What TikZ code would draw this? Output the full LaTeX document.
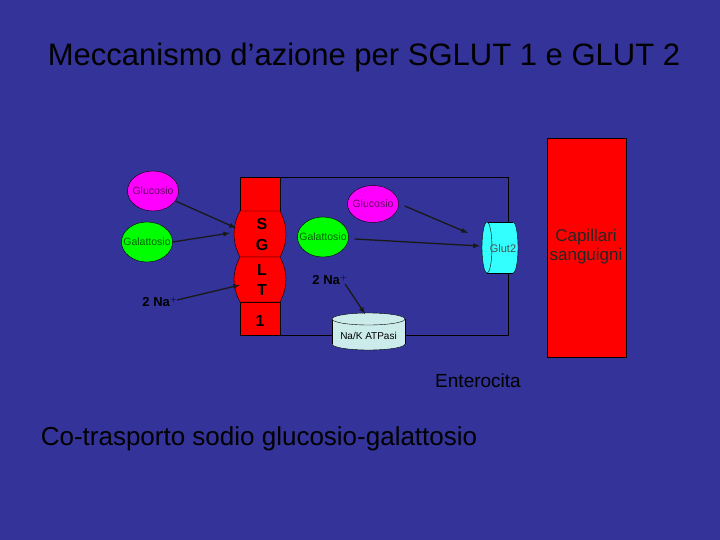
\documentclass[tikz,border=0pt]{standalone}
\usepackage{fontspec}
\setmainfont{Liberation Sans}
\usetikzlibrary{shapes.geometric}
\definecolor{bg}{RGB}{51,51,153}
\definecolor{mag}{RGB}{255,0,255}
\definecolor{grn}{RGB}{0,255,0}
\definecolor{cy}{RGB}{51,255,255}
\definecolor{nak}{RGB}{204,236,236}
\begin{document}
\begin{tikzpicture}[x=1pt,y=-1pt,
  ell/.style={ellipse,draw=black,minimum width=51,inner xsep=-8pt,inner ysep=0pt,font=\fontsize{10.5}{12}\selectfont,text=black!60!mag},
  arr/.style={draw=black!90,line width=1.3pt,-latex},
  big/.style={font=\bfseries\fontsize{16}{18}\selectfont,text=black}]
\fill[bg] (0,0) rectangle (720,540);
\useasboundingbox (0,0) rectangle (720,540);
\node[font=\fontsize{31}{36}\selectfont] (title) at (364,57) {Meccanismo d’azione per SGLUT 1 e GLUT 2};
% cell
\draw[black] (240,177) rectangle (508,335);
% SGLT
\draw[fill=red] (240,177) rectangle (280,211);
\draw[fill=red] (240,302) rectangle (280,335);
\draw[fill=red] (240,211) .. controls (232,226) and (232,242) .. (240,257) -- (280,257) .. controls (288,242) and (288,226) .. (280,211) -- cycle;
\draw[fill=red] (240,257) .. controls (232,272) and (232,287) .. (240,302) -- (280,302) .. controls (288,287) and (288,272) .. (280,257) -- cycle;
\node[big] (s) at (262,224) {S};
\node[big] (g) at (262,245) {G};
\node[big] (l) at (262,270) {L};
\node[big] (t) at (262,290) {T};
\node[big] (one) at (260,321) {1};
% capillari
\node[draw=black,fill=red,minimum width=79,minimum height=219,inner sep=0pt] (cap) at (586.5,247.5) {};
\node[font=\fontsize{17}{19}\selectfont,align=center,text=black!85] (capt) at (586,247) {Capillari\\sanguigni};
% ellipses
\node[ell,fill=mag,minimum height=40] (glu1) at (153,191) {Glucosio};
\node[ell,fill=grn,minimum height=40,text=black!60!grn] (gal1) at (147,242) {Galattosio};
\node[ell,fill=mag,minimum height=37] (glu2) at (373,204) {Glucosio};
\node[ell,fill=grn,minimum height=40,text=black!60!grn] (gal2) at (323,237) {Galattosio};
\node[font=\bfseries\fontsize{13}{15}\selectfont,text=black] (na1) at (160,302) {2 Na$^{+}$};
\node[font=\bfseries\fontsize{13}{15}\selectfont,text=black] (na2) at (330,280) {2 Na$^{+}$};
% Glut2 cylinder (horizontal)
\fill[cy] (487,222) rectangle (513,273);
\fill[cy] (513,247.5) ellipse [x radius=5,y radius=25.5];
\draw (487,222) -- (513,222) (487,273) -- (513,273);
\draw (513,222) arc[start angle=-90,end angle=90,x radius=5,y radius=25.5];
\draw[fill=cy] (487,247.5) ellipse [x radius=5,y radius=25.5];
\node[font=\fontsize{11}{12}\selectfont,text=black!70,inner sep=1pt] (glut) at (503,249) {Glut2};
\coordinate (glutw) at (480,246);
\coordinate (glutn) at (468,233);
% NaK cylinder (vertical)
\fill[nak] (332,319) rectangle (405,344);
\fill[nak] (368.5,344) ellipse [x radius=36.5,y radius=6];
\draw (332,319) -- (332,344) (405,319) -- (405,344);
\draw (332,344) arc[start angle=180,end angle=0,x radius=36.5,y radius=6];
\draw[fill=nak] (368.5,319) ellipse [x radius=36.5,y radius=6];
\node[font=\fontsize{10}{11}\selectfont,text=black] (nak) at (368.5,336) {Na/K ATPasi};
\coordinate (nakn) at (365,314);
% arrows
\coordinate (sg1) at (236,228);
\coordinate (sg2) at (230,233);
\coordinate (sg3) at (240,285);
\draw[arr] (glu1) -- (sg1);
\draw[arr] (gal1.east) -- (sg2);
\draw[arr] (na1.east) ++(-4,-2) -- (sg3);
\draw[arr] (glu2.east) ++(6,2) -- (glutn);
\draw[arr] (gal2.east) ++(6,2) -- (glutw);
\draw[arr] (na2.east) ++(-6,4) -- (nakn);
\node[font=\fontsize{19}{22}\selectfont,text=black] (ent) at (478,381) {Enterocita};
\node[font=\fontsize{26}{30}\selectfont,text=black] (co) at (259,439) {Co-trasporto sodio glucosio-galattosio};
\end{tikzpicture}
\end{document}
